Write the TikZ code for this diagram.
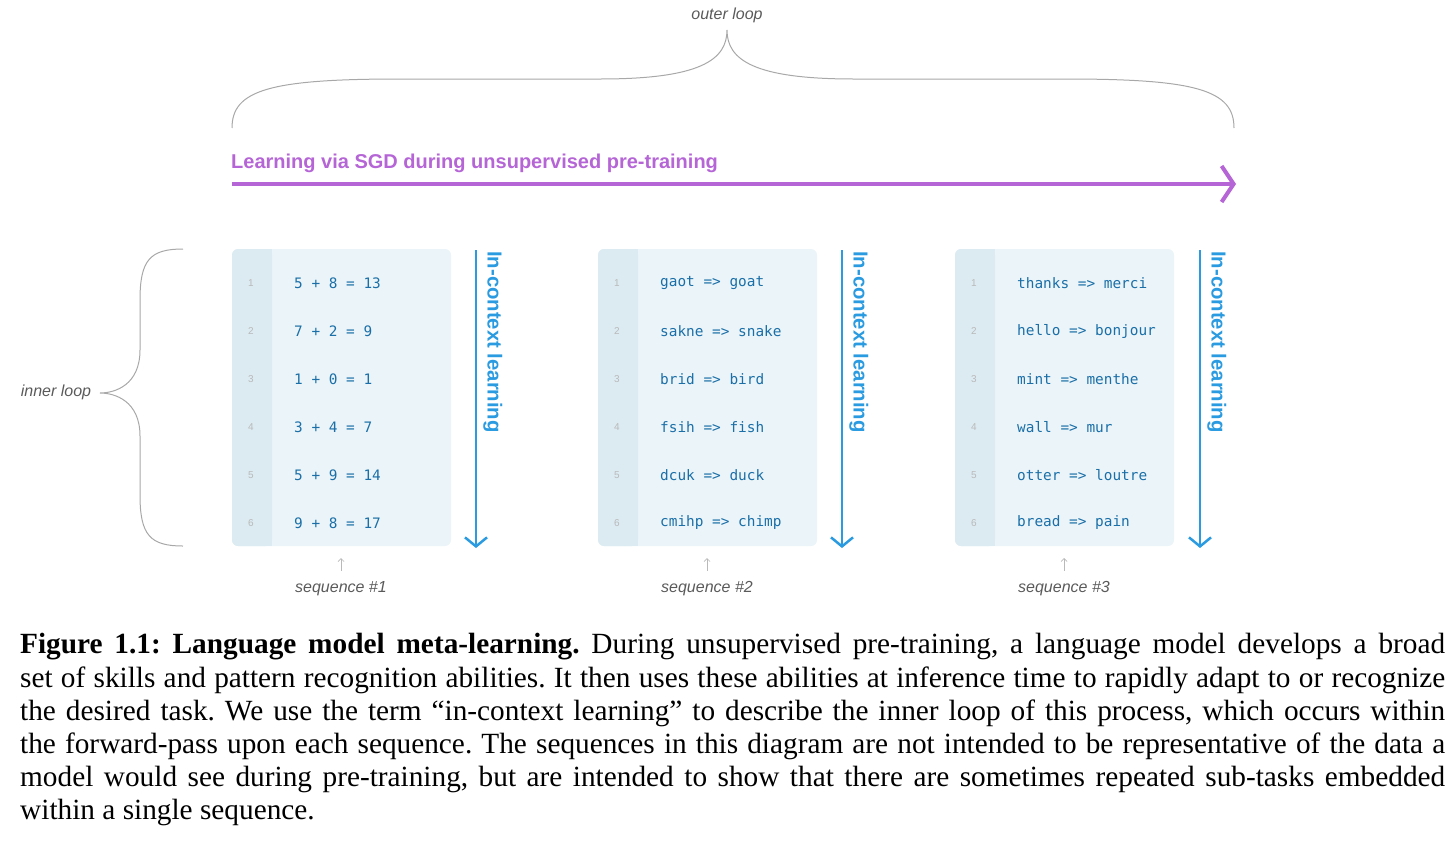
\documentclass[tikz,border=0pt]{standalone}
\usepackage{fontspec}
\setmainfont{Liberation Serif}
\setsansfont{Liberation Sans}
\setmonofont{DejaVu Sans Mono}
\usetikzlibrary{arrows.meta}
\definecolor{purp}{HTML}{B565D6}
\definecolor{arrblue}{HTML}{2A9BE0}
\definecolor{txtblue}{HTML}{1A6FA8}
\definecolor{boxbg}{HTML}{EBF4F8}
\definecolor{stripbg}{HTML}{DCEBF2}
\definecolor{braceg}{HTML}{A8A8A8}
\definecolor{lblg}{HTML}{5A5A5A}
\tikzset{
  brace/.style={draw=braceg, line width=1pt},
  glabel/.style={font=\sffamily\itshape\fontsize{16}{18}\selectfont, text=lblg},
  code/.style={font=\ttfamily\fontsize{14.4}{16}\selectfont, text=txtblue, anchor=west, inner sep=0},
  lnum/.style={font=\sffamily\fontsize{10}{11}\selectfont, text=braceg!80, inner sep=0},
  icl/.style={font=\sffamily\bfseries\fontsize{20.3}{22}\selectfont, text=arrblue, rotate=-90, anchor=south west, inner sep=0},
  iclarrow/.style={draw=arrblue, line width=2.5pt, -{Straight Barb[length=9pt,width=22pt,line width=2.5pt]}},
  capline/.style={anchor=west, inner sep=0, font=\frenchspacing\fontsize{29.3}{31}\selectfont}
}
\begin{document}
\begin{tikzpicture}[x=1pt,y=-1pt]
\useasboundingbox (0,0) rectangle (1456,844);
% outer brace
\draw[brace] (232,128) .. controls (232,90) and (270,79) .. (400,79) -- (600,79) .. controls (700,79) and (727,60) .. (727,30)
  .. controls (727,60) and (754,79) .. (854,79) -- (1066,79) .. controls (1196,79) and (1234,90) .. (1234,128);
\node[glabel] (outer) at (727,15) {outer loop};
% purple arrow
\node[anchor=west, inner sep=0, font=\sffamily\bfseries\fontsize{20}{22}\selectfont, text=purp] (sgd) at (231,163) {Learning via SGD during unsupervised pre-training};
\coordinate (pa) at (232,184);
\coordinate (pb) at (1236,184);
\draw[draw=purp, line width=4pt, -{Straight Barb[length=12pt,width=36pt,line width=4pt]}] (pa) -- (pb);
% inner brace
\draw[brace] (183,249) .. controls (150,249) and (140,260) .. (140,300) -- (140,350) .. controls (140,385) and (115,393) .. (100,393)
  .. controls (115,393) and (140,401) .. (140,436) -- (140,495) .. controls (140,535) and (150,546) .. (183,546);
\node[glabel] (inner) at (56,392) {inner loop};
% boxes
\foreach \bx/\ax/\k/\la/\lb/\lc/\ld/\le/\lf in {
  232/476/1/{5 + 8 = 13}/{7 + 2 = 9}/{1 + 0 = 1}/{3 + 4 = 7}/{5 + 9 = 14}/{9 + 8 = 17},
  598/842/2/{gaot => goat}/{sakne => snake}/{brid => bird}/{fsih => fish}/{dcuk => duck}/{cmihp => chimp},
  955/1200/3/{thanks => merci}/{hello => bonjour}/{mint => menthe}/{wall => mur}/{otter => loutre}/{bread => pain}}{
  \fill[boxbg, rounded corners=6pt] (\bx,249) rectangle +(219,297);
  \fill[stripbg, rounded corners=6pt] (\bx,249) rectangle +(40,297);
  \fill[stripbg] (\bx+30,249) rectangle +(10,297);
  \foreach \i/\t in {1/\la,2/\lb,3/\lc,4/\ld,5/\le,6/\lf}{
    \node[lnum] (n\k\i) at (\bx+19,235+48*\i) {\i};
    \node[code] (c\k\i) at (\bx+62,235+48*\i) {\t};
  }
  \coordinate (as\k) at (\ax,250);
  \coordinate (ae\k) at (\ax,548);
  \draw[iclarrow] (as\k) -- (ae\k);
  \node[icl] (icl\k) at (\ax+7,251) {In-context learning};
  \node[glabel] (seq\k) at (\bx+109,589) {sequence \#\k};
  \coordinate (ua\k) at (\bx+109,571);
  \coordinate (ub\k) at (\bx+109,558);
  \draw[draw=braceg!80, line width=0.7pt, -{Straight Barb[length=3pt,width=6pt]}] (ua\k) -- (ub\k);
}
% caption
\node[capline] (l1) at (20,647) {\makebox[1425pt][s]{\textbf{Figure 1.1: Language model meta-learning.} During unsupervised pre-training, a language model develops a broad}};
\node[capline] (l2) at (20,680) {\makebox[1425pt][s]{set of skills and pattern recognition abilities. It then uses these abilities at inference time to rapidly adapt to or recognize}};
\node[capline] (l3) at (20,713) {\makebox[1425pt][s]{the desired task. We use the term “in-context learning” to describe the inner loop of this process, which occurs within}};
\node[capline] (l4) at (20,746) {\makebox[1425pt][s]{the forward-pass upon each sequence. The sequences in this diagram are not intended to be representative of the data a}};
\node[capline] (l5) at (20,779) {\makebox[1425pt][s]{model would see during pre-training, but are intended to show that there are sometimes repeated sub-tasks embedded}};
\node[capline] (l6) at (20,812) {within a single sequence.};
\end{tikzpicture}
\end{document}
